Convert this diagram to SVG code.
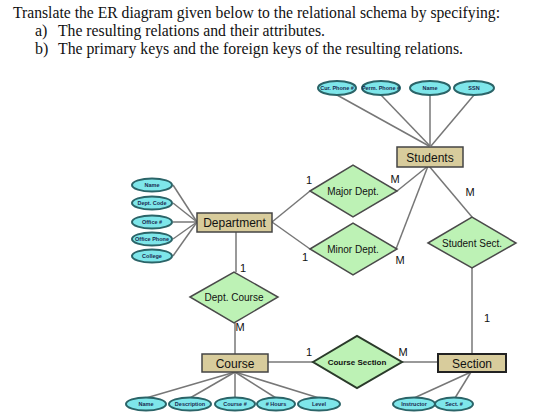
<svg xmlns="http://www.w3.org/2000/svg" width="542" height="419" viewBox="0 0 542 419">
<style>
.title{font-family:"Liberation Serif",serif;font-size:16px;fill:#111}
.ln{stroke:#777;stroke-width:1.5;fill:none}
.att ellipse{fill:#7ee6ea;stroke:#2b6468;stroke-width:2}
.att text{font-family:"Liberation Sans",Arial,sans-serif;font-size:5.5px;font-weight:bold;fill:#1a2a50;text-anchor:middle}
.ent rect{fill:#d8cc9c;stroke:#444;stroke-width:1.5}
.ent text{font-family:"Liberation Sans",Arial,sans-serif;font-size:12px;fill:#111;text-anchor:middle}
.rel polygon{fill:#bdf2b5;stroke:#4a4a4a;stroke-width:1.5}
.rel text{font-family:"Liberation Sans",Arial,sans-serif;font-size:10px;fill:#111;text-anchor:middle}
.card{font-family:"Liberation Sans",Arial,sans-serif;font-size:11px;fill:#111;text-anchor:middle}
</style>
<rect width="542" height="419" fill="#fff"/>
<g id="title">
<text class="title" x="13" y="18" textLength="487" lengthAdjust="spacingAndGlyphs">Translate the ER diagram given below to the relational schema by specifying:</text>
<text class="title" x="35" y="36">a)</text>
<text class="title" x="58" y="36" textLength="267" lengthAdjust="spacingAndGlyphs">The resulting relations and their attributes.</text>
<text class="title" x="35" y="54">b)</text>
<text class="title" x="58" y="54" textLength="405" lengthAdjust="spacingAndGlyphs">The primary keys and the foreign keys of the resulting relations.</text>
</g>
<g id="connectors">
<line class="ln" x1="337" y1="95" x2="429" y2="146"/>
<line class="ln" x1="381" y1="95" x2="430" y2="146"/>
<line class="ln" x1="430" y1="95" x2="430" y2="146"/>
<line class="ln" x1="474" y1="95" x2="431" y2="146"/>
<line class="ln" x1="173" y1="185" x2="197" y2="222"/>
<line class="ln" x1="173" y1="203" x2="197" y2="222"/>
<line class="ln" x1="173" y1="222" x2="197" y2="222"/>
<line class="ln" x1="173" y1="239" x2="197" y2="222"/>
<line class="ln" x1="173" y1="256" x2="197" y2="222"/>
<line class="ln" x1="272" y1="222" x2="310" y2="191"/>
<line class="ln" x1="272" y1="222" x2="310" y2="249"/>
<line class="ln" x1="428" y1="166" x2="397" y2="191"/>
<line class="ln" x1="428" y1="166" x2="396" y2="249"/>
<line class="ln" x1="429" y1="166" x2="472" y2="217"/>
<line class="ln" x1="472" y1="268" x2="472" y2="354"/>
<line class="ln" x1="236" y1="232" x2="236" y2="272"/>
<line class="ln" x1="235" y1="323" x2="235" y2="354"/>
<line class="ln" x1="268" y1="362" x2="313" y2="362"/>
<line class="ln" x1="402" y1="362" x2="438" y2="362"/>
<line class="ln" x1="235" y1="372" x2="146" y2="398"/>
<line class="ln" x1="235" y1="372" x2="190" y2="398"/>
<line class="ln" x1="235" y1="372" x2="235" y2="398"/>
<line class="ln" x1="235" y1="372" x2="276" y2="398"/>
<line class="ln" x1="235" y1="372" x2="319" y2="398"/>
<line class="ln" x1="471" y1="372" x2="414" y2="398"/>
<line class="ln" x1="471" y1="372" x2="455" y2="398"/>
</g>
<g id="att-curphone" class="att"><ellipse cx="337" cy="88" rx="19" ry="7"/><text x="337" y="90">Cur. Phone #</text></g>
<g id="att-permphone" class="att"><ellipse cx="381" cy="88" rx="19" ry="7"/><text x="381" y="90">Perm. Phone #</text></g>
<g id="att-sname" class="att"><ellipse cx="430" cy="88" rx="20" ry="7"/><text x="430" y="90">Name</text></g>
<g id="att-ssn" class="att"><ellipse cx="474" cy="88" rx="20" ry="7"/><text x="474" y="90">SSN</text></g>
<g id="att-dname" class="att"><ellipse cx="152" cy="185" rx="20" ry="6.5"/><text x="152" y="187">Name</text></g>
<g id="att-dcode" class="att"><ellipse cx="152" cy="203" rx="20" ry="6.5"/><text x="152" y="205">Dept. Code</text></g>
<g id="att-office" class="att"><ellipse cx="152" cy="222" rx="20" ry="6.5"/><text x="152" y="224">Office #</text></g>
<g id="att-ophone" class="att"><ellipse cx="152" cy="239" rx="20" ry="6.5"/><text x="152" y="241">Office Phone</text></g>
<g id="att-college" class="att"><ellipse cx="152" cy="256" rx="20" ry="6.5"/><text x="152" y="258">College</text></g>
<g id="att-cname" class="att"><ellipse cx="146" cy="404" rx="20" ry="6.5"/><text x="146" y="406">Name</text></g>
<g id="att-desc" class="att"><ellipse cx="190" cy="404" rx="21" ry="6.5"/><text x="190" y="406">Description</text></g>
<g id="att-courseno" class="att"><ellipse cx="235" cy="404" rx="20" ry="6.5"/><text x="235" y="406">Course #</text></g>
<g id="att-hours" class="att"><ellipse cx="276" cy="404" rx="19" ry="6.5"/><text x="276" y="406"># Hours</text></g>
<g id="att-level" class="att"><ellipse cx="319" cy="404" rx="21" ry="6.5"/><text x="319" y="406">Level</text></g>
<g id="att-instructor" class="att"><ellipse cx="414" cy="404" rx="21" ry="6.5"/><text x="414" y="406">Instructor</text></g>
<g id="att-sectno" class="att"><ellipse cx="454" cy="404" rx="19" ry="6.5"/><text x="454" y="406">Sect. #</text></g>
<g id="students" class="ent"><rect x="397" y="147" width="66" height="20"/><text x="430" y="161.5">Students</text></g>
<g id="department" class="ent"><rect x="197" y="213" width="75" height="19"/><text x="234.5" y="227">Department</text></g>
<g id="course" class="ent"><rect x="202" y="354" width="66" height="18"/><text x="235" y="367.5">Course</text></g>
<g id="section" class="ent"><rect x="438" y="354" width="68" height="18" style="stroke:#222;stroke-width:2"/><text x="472" y="367.5">Section</text></g>
<g id="major-dept" class="rel"><polygon points="310,191 353,165 397,191 353,217"/><text x="353" y="195">Major Dept.</text></g>
<g id="minor-dept" class="rel"><polygon points="310,249 353,223 397,249 353,275"/><text x="353" y="253">Minor Dept.</text></g>
<g id="student-sect" class="rel"><polygon points="428,243 472,217 516,243 472,268"/><text x="472" y="247">Student Sect.</text></g>
<g id="dept-course" class="rel"><polygon points="190,297 234,272 278,297 234,323"/><text x="234" y="301">Dept. Course</text></g>
<g id="course-section" class="rel"><polygon points="313,362 357,336 402,362 357,388" style="stroke:#2a3a2a;stroke-width:2"/><text x="357" y="365" style="font-size:8px;font-weight:bold">Course Section</text></g>
<g id="cardinalities">
<text class="card" x="309" y="184">1</text>
<text class="card" x="395" y="183">M</text>
<text class="card" x="305" y="261">1</text>
<text class="card" x="400" y="264">M</text>
<text class="card" x="470" y="196">M</text>
<text class="card" x="487" y="322">1</text>
<text class="card" x="243" y="272">1</text>
<text class="card" x="240" y="331">M</text>
<text class="card" x="309" y="356">1</text>
<text class="card" x="403" y="356">M</text>
</g>
</svg>
